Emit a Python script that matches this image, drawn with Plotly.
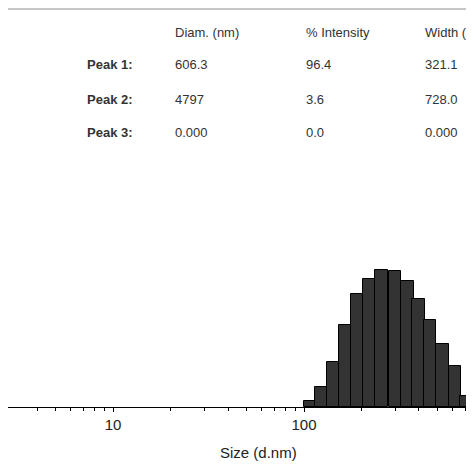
import plotly.graph_objects as go

# size bins (d.nm) and intensity (%)
sizes = [108, 124, 143, 165, 191, 220, 255, 301, 348, 399, 459, 531, 618, 711]
intensity = [0.5, 1.7, 3.9, 7.1, 9.8, 11.1, 11.9, 11.8, 11.0, 9.4, 7.6, 5.5, 3.6, 1.0]

headers = ["Diam. (nm)", "% Intensity", "Width (nm)"]
peak_labels = ["Peak 1:", "Peak 2:", "Peak 3:"]
diam = ["606.3", "4797", "0.000"]
pct = ["96.4", "3.6", "0.0"]
width = ["321.1", "728.0", "0.000"]

W, H = 474, 474
PLOT_H = 399

def py(p):
    return 1 - p / PLOT_H

fig = go.Figure()
fig.add_trace(go.Bar(x=sizes, y=intensity, width=[s * 0.152 for s in sizes],
                     marker=dict(color="#333333", line=dict(color="black", width=1))))

font = dict(family="Liberation Sans, Arial", size=13, color="#333")
ann = []
cols = [165, 296, 415]
for c, h in zip(cols, headers):
    ann.append(dict(x=c / W, y=py(24), text=h, font=font))
rows = [57, 91, 125]
for r, lab, a, b, c in zip(rows, peak_labels, diam, pct, width):
    ann.append(dict(x=77 / W, y=py(r), text="<b>" + lab + "</b>", font=font))
    for cx, t in zip(cols, [a, b, c]):
        ann.append(dict(x=cx / W, y=py(r), text=t, font=font))
for a in ann:
    a.update(xref="paper", yref="paper", xanchor="left", yanchor="middle", showarrow=False)
ann.append(dict(x=250 / W, y=py(455), xref="paper", yref="paper", text="Size (d.nm)",
                showarrow=False, font=dict(family="Liberation Sans, Arial", size=15, color="#222")))
fig.update_layout(annotations=ann)

fig.update_xaxes(type="log", range=[0.45, 2.932], showline=True, linecolor="black",
                 linewidth=1, ticks="outside", ticklen=4, tickcolor="black",
                 tickvals=[10, 100, 1000], ticktext=["10", "100", "1000"],
                 minor=dict(ticks="outside", ticklen=3, tickcolor="black",
                            tickvals=[4, 5, 6, 7, 8, 9, 20, 30, 40, 50, 60, 70, 80, 90,
                                      200, 300, 400, 500, 600, 700, 800, 900]),
                 showgrid=False, automargin=False,
                 tickfont=dict(family="Liberation Sans, Arial", size=15, color="#222"))
fig.update_yaxes(range=[0, 34.7], visible=False)

fig.update_layout(width=W, height=H,
                  margin=dict(l=0, r=0, t=0, b=H - PLOT_H, pad=0, autoexpand=False),
                  plot_bgcolor="white", paper_bgcolor="white", showlegend=False, bargap=0,
                  shapes=[dict(type="rect", xref="paper", yref="paper", x0=0, x1=1,
                               y0=py(467), y1=py(474), fillcolor="#d0d0d0", line_width=0),
                          dict(type="rect", xref="paper", yref="paper", x0=0, x1=1,
                               y0=py(0), y1=py(2), fillcolor="#c8c8c8", line_width=0)])

fig.write_html("out.html")
